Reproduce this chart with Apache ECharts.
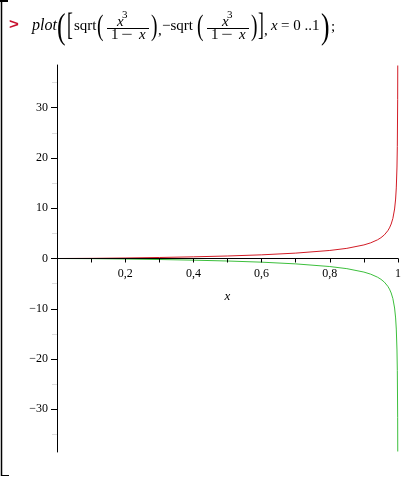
<!DOCTYPE html>
<html>
<head>
<meta charset="utf-8">
<script src="https://cdn.jsdelivr.net/npm/echarts@6/dist/echarts.min.js"></script>
<style>
html,body{margin:0;padding:0;background:#fff;}
#chart{width:414px;height:478px;}
</style>
</head>
<body>
<div id="chart"></div>
<script>
// x samples
const xValues = [0, 0.1, 0.2, 0.3, 0.4, 0.5, 0.6, 0.7, 0.8, 0.85, 0.9, 0.92, 0.94, 0.95, 0.96, 0.97, 0.975, 0.98, 0.985, 0.99, 0.993, 0.995, 0.997, 0.998, 0.999, 0.9993];
// upper (red) curve values
const redValues = [0, 0.03, 0.1, 0.2, 0.33, 0.5, 0.73, 1.07, 1.6, 2.02, 2.7, 3.12, 3.72, 4.14, 4.7, 5.52, 6.09, 6.86, 7.98, 9.85, 11.83, 14.04, 18.2, 22.3, 31.6, 38.4];
// lower (green) curve values
const greenValues = [0, -0.03, -0.1, -0.2, -0.33, -0.5, -0.73, -1.07, -1.6, -2.02, -2.7, -3.12, -3.72, -4.14, -4.7, -5.52, -6.09, -6.86, -7.98, -9.85, -11.83, -14.04, -18.2, -22.3, -31.6, -38.4];
// tick labels
const xTickValues = [0.2, 0.4, 0.6, 0.8, 1];
const xTickLabels = ['0,2', '0,4', '0,6', '0,8', '1'];
const yTickValues = [-30, -20, -10, 0, 10, 20, 30];
const yTickLabels = ['\u221230', '\u221220', '\u221210', '0', '10', '20', '30'];
const yMinorValues = [-35, -25, -15, -5, 5, 15, 25, 35];

const chart = echarts.init(document.getElementById('chart'), null, {renderer: 'canvas'});

const serif = 'Liberation Serif';
function txt(text, x, y, size, opts) {
  opts = opts || {};
  return {
    type: 'text',
    z: 10,
    x: x, y: y,
    scaleX: opts.sx || 1,
    scaleY: opts.sy || 1,
    style: {
      text: text, x: 0, y: 0,
      font: (opts.italic ? 'italic ' : '') + (opts.bold ? 'bold ' : '') + size + 'px "' + (opts.family || serif) + '"',
      fill: opts.fill || '#000',
      align: opts.align || 'left',
      verticalAlign: 'middle'
    }
  };
}
function line(x1, y1, x2, y2, w) {
  return {type: 'line', z: 10, shape: {x1: x1, y1: y1, x2: x2, y2: y2}, style: {stroke: '#000', lineWidth: w || 1}};
}

const graphics = [
  // Maple bracket
  line(1.5, 0, 1.5, 476, 1.5),
  line(0, 1, 8, 1, 2),
  line(1, 475.5, 9, 475.5, 1),
  txt('>', 9, 25, 14, {bold: true, family: 'Liberation Sans', fill: '#c8102e', sx: 1.2}),
  txt('plot', 32, 26, 16, {italic: true}),
  txt('(', 57, 28, 16, {sx: 1.6, sy: 2.3}),
  txt('[', 67, 27, 16, {sx: 1.1, sy: 2.0}),
  txt('sqrt', 74, 26, 15),
  txt('(', 97, 27, 15, {sx: 1.3, sy: 1.95}),
  txt('x', 117, 22, 15, {italic: true}),
  txt('3', 122, 15, 11),
  line(107, 28.5, 149, 28.5, 1),
  txt('1', 111, 35, 15),
  txt('\u2212', 121, 35, 15, {sx: 1.35}),
  txt('x', 139, 35, 15, {italic: true}),
  txt(')', 151, 27, 15, {sx: 1.3, sy: 1.95}),
  txt(',', 158, 31, 15),
  txt('\u2212sqrt', 162, 26, 15),
  txt('(', 197, 27, 15, {sx: 1.3, sy: 1.95}),
  txt('x', 222, 22, 15, {italic: true}),
  txt('3', 227, 15, 11),
  line(207, 28.5, 249, 28.5, 1),
  txt('1', 211, 35, 15),
  txt('\u2212', 221, 35, 15, {sx: 1.35}),
  txt('x', 239, 35, 15, {italic: true}),
  txt(')', 251, 27, 15, {sx: 1.3, sy: 1.95}),
  txt(']', 258, 27, 16, {sx: 1.1, sy: 2.0}),
  txt(',', 264, 31, 15),
  txt('x', 271, 26, 15, {italic: true}),
  txt('= 0 ..1', 281, 26, 15),
  txt(')', 321, 28, 16, {sx: 1.6, sy: 2.3}),
  txt(';', 331, 27, 15)
];

const option = {
  animation: false,
  backgroundColor: '#fff',
  grid: {left: 57, right: 16, top: 65, bottom: 26, containLabel: false, outerBoundsMode: 'none'},
  xAxis: {
    type: 'value',
    position: 'bottom',
    offset: -193.5,
    min: 0, max: 1, interval: 0.1,
    name: 'x',
    nameLocation: 'middle',
    nameGap: 32,
    nameTextStyle: {fontFamily: serif, fontStyle: 'italic', fontSize: 13, color: '#000'},
    axisLine: {onZero: false, lineStyle: {color: '#000', width: 1}},
    axisTick: {show: true, length: 4, lineStyle: {color: '#000'}},
    axisLabel: {
      customValues: xTickValues,
      margin: 9,
      fontFamily: serif, fontSize: 12, color: '#000',
      formatter: function (v) {
        const i = xTickValues.findIndex(t => Math.abs(t - v) < 1e-6);
        return i >= 0 ? xTickLabels[i] : '';
      }
    },
    splitLine: {show: false},
    z: 5
  },
  yAxis: [{
    type: 'value',
    min: -38.5, max: 38.5,
    axisLine: {show: true, onZero: false, lineStyle: {color: '#000', width: 1}},
    axisTick: {show: true, length: 6, customValues: yTickValues, lineStyle: {color: '#000'}},
    axisLabel: {
      customValues: yTickValues,
      margin: 9,
      fontFamily: serif, fontSize: 12, color: '#000',
      formatter: function (v) {
        const i = yTickValues.indexOf(Math.round(v));
        return i >= 0 ? yTickLabels[i] : '';
      }
    },
    splitLine: {show: false},
    z: 5
  }, {
    type: 'value',
    min: -38.5, max: 38.5,
    position: 'left',
    axisLine: {show: false, onZero: false},
    axisTick: {show: true, length: 5, customValues: yMinorValues, lineStyle: {color: '#dcdcdc'}},
    axisLabel: {show: false},
    splitLine: {show: false}
  }],
  series: [{
    type: 'line',
    data: xValues.map((x, i) => [x, redValues[i]]),
    showSymbol: false,
    smooth: false,
    lineStyle: {color: '#d21c26', width: 1},
    z: 2
  }, {
    type: 'line',
    data: xValues.map((x, i) => [x, greenValues[i]]),
    showSymbol: false,
    smooth: false,
    lineStyle: {color: '#3cbf3c', width: 1},
    z: 2
  }],
  graphic: graphics
};
chart.setOption(option);
</script>
</body>
</html>
